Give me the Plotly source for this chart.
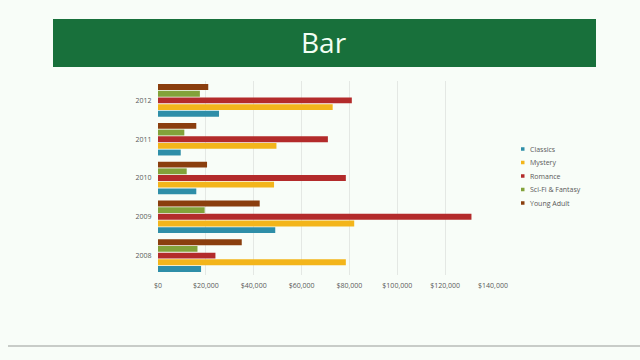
import plotly.graph_objects as go

years = ["2008", "2009", "2010", "2011", "2012"]
classics = [18000, 49000, 16000, 9500, 25500]
mystery = [78500, 82000, 48500, 49500, 73000]
romance = [24000, 131000, 78500, 71000, 81000]
scifi = [16500, 19500, 12000, 11000, 17500]
young_adult = [35000, 42500, 20500, 16000, 21000]

series = [
    ("Classics", classics, "#2E8EA8"),
    ("Mystery", mystery, "#F3B51B"),
    ("Romance", romance, "#B32B2B"),
    ("Sci-Fi & Fantasy", scifi, "#82A23A"),
    ("Young Adult", young_adult, "#8A3E0E"),
]

fig = go.Figure()
for name, vals, col in series:
    fig.add_trace(go.Bar(y=years, x=vals, name=name, orientation="h", showlegend=False,
                         marker=dict(color=col, line=dict(width=0))))

# pixel helpers: plot area x 158..493, y 81..275
L, R, T, B = 158, 493, 81, 275
def px(x):
    return (x - L) / (R - L)
def py(y):
    return (B - y) / (B - T)

shapes = [
    dict(type="rect", xref="paper", yref="paper",
         x0=px(53), x1=px(596), y0=py(67), y1=py(19),
         fillcolor="#18703B", line=dict(width=0), layer="below"),
    dict(type="line", xref="paper", yref="paper",
         x0=px(8), x1=px(640), y0=py(346), y1=py(346),
         line=dict(color="#C8CCC8", width=2)),
]
annotations = [
    dict(text="Bar", xref="paper", yref="paper", x=px(324), y=py(42),
         xanchor="center", yanchor="middle", showarrow=False,
         font=dict(size=28, color="#F2FFF4", family="Open Sans, sans-serif")),
]
# compact legend
for i, (name, vals, col) in enumerate(series):
    yc = 149 + i * 13.5
    shapes.append(dict(type="rect", xref="paper", yref="paper",
                       x0=px(521), x1=px(524.5), y0=py(yc + 1.75), y1=py(yc - 1.75),
                       fillcolor=col, line=dict(width=0)))
    annotations.append(dict(text=name, xref="paper", yref="paper", x=px(528), y=py(yc),
                            xanchor="left", yanchor="middle", showarrow=False,
                            font=dict(size=7, color="#595959")))

fig.update_layout(
    width=640, height=360,
    margin=dict(l=L, r=640 - R, t=T, b=360 - B),
    paper_bgcolor="#F8FDF8", plot_bgcolor="#F8FDF8",
    barmode="group", bargap=0.14, bargroupgap=0.12,
    font=dict(family="Open Sans, sans-serif", color="#595959", size=7),
    xaxis=dict(range=[0, 140000], tickvals=[0, 20000, 40000, 60000, 80000, 100000, 120000, 140000],
               tickformat="$,.0f", showgrid=True, gridcolor="#E4E8E4", gridwidth=1,
               zeroline=False, showline=False, tickfont=dict(size=7, color="#595959"),
               ticks="", ticklabelstandoff=5, fixedrange=True),
    yaxis=dict(showgrid=False, zeroline=False, showline=False, ticks="",
               tickfont=dict(size=7, color="#595959"), ticksuffix="   ", fixedrange=True),
    showlegend=False,
    shapes=shapes,
    annotations=annotations,
)

fig.write_html("out.html", config={"displayModeBar": False},
               post_script="document.body.style.margin='0';")
